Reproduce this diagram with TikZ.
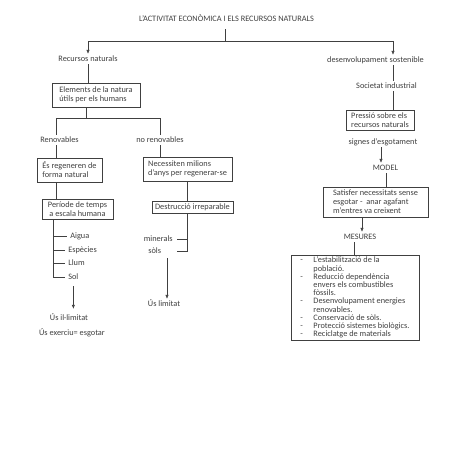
\documentclass[tikz,border=0pt]{standalone}
\usepackage{fontspec}
\setmainfont{Carlito}
\usetikzlibrary{arrows.meta, positioning}
\tikzset{>={Latex[length=4pt,width=3.2pt]}}
\newcommand{\guio}{\makebox[13pt][l]{-}}
\newcommand{\segueix}{\hspace*{13pt}}

\begin{document}
\begin{tikzpicture}[x=1pt, y=-1pt, color=black!75, line width=0.6pt,
  font=\fontsize{8.3}{9}\selectfont,
  txt/.style={inner sep=1pt, text height=6pt, text depth=1.5pt},
  box/.style={draw, align=left, inner xsep=2pt, inner ysep=1pt}]

\fill[white] (0,0) rectangle (453,453);
\useasboundingbox (0,0) rectangle (453,453);

% Title
\node[txt] (title) at (226.5,19) {L’ACTIVITAT ECONÒMICA I ELS RECURSOS NATURALS};
\coordinate (split) at (225,41);
\draw[shorten <=5pt] (split |- title.south) -- (split);

% Left branch: recursos naturals
\node[txt] (recnat) at (88,59) {Recursos naturals};
\node[box, minimum width=88pt, minimum height=24pt] (elem) at (96,95) {Elements de la natura\\útils per els humans};
\draw[->] (split) -| (recnat.north);
\draw (recnat.south) -- (recnat.south |- elem.north);

\node[txt] (renov) at (59.5,140) {Renovables};
\node[txt] (norenov) at (160,140) {no renovables};
\coordinate (lsplit) at (86,118);
\coordinate (sp1) at (56,118);
\coordinate (sp2) at (160,118);
\draw (lsplit |- elem.south) -- (lsplit);
\draw (sp2 |- norenov.north) -- (sp2) -- (sp1) -- (sp1 |- renov.north);

% Renovables
\node[box, minimum width=65pt, minimum height=24pt] (regen) at (69.5,170) {És regeneren de\\forma natural};
\node[box, align=center, minimum width=71pt, minimum height=20pt] (period) at (77.5,209) {Període de temps\\a escala humana};
\draw (sp1 |- renov.south) -- (sp1 |- regen.north);
\draw (sp1 |- regen.south) -- (sp1 |- period.north);

\coordinate (sp4) at (53,219);
\node[txt, anchor=west] (aigua) at (69,236) {Aigua};
\node[txt, anchor=west] (especies) at (67,250) {Espècies};
\node[txt, anchor=west] (llum) at (67,263) {Llum};
\node[txt, anchor=west] (sol) at (67,277) {Sol};
\draw[shorten >=2pt] (sp4 |- period.south) |- (sol.west);
\foreach \n in {aigua, especies, llum}
  \draw[shorten >=2pt] (sp4 |- \n.west) -- (\n.west);

\node[txt] (ilim) at (69,318) {Ús il·limitat};
\node[txt] (exerc) at (72,333) {Ús exerciu= esgotar};
\draw[->, shorten <=4pt, shorten >=4pt] (sol.south) -- (sol.south |- ilim.north);

% No renovables
\node[box, minimum width=89pt, minimum height=24pt] (necess) at (187.5,169) {Necessiten milions\\d’anys per regenerar-se};
\node[box, align=center, minimum width=81pt, minimum height=12pt] (destr) at (192.5,207) {Destrucció irreparable};
\coordinate (sp3) at (187,0);
\draw (norenov.south) -- (norenov.south |- necess.north);
\draw (sp3 |- necess.south) -- (sp3 |- destr.north);

\node[txt, anchor=east] (minerals) at (174,239) {minerals};
\node[txt, anchor=west] (sols) at (147,251) {sòls};
\draw[shorten >=3pt] (sp3 |- destr.south) |- (sols.east -| minerals.east);
\draw[shorten >=3pt] (sp3 |- minerals.east) -- (minerals.east);

\coordinate (a2) at (167,258);
\node[txt] (limitat) at (164,304) {Ús limitat};
\draw[->] (a2) -- (a2 |- limitat.north);

% Right branch: desenvolupament sostenible
\coordinate (rsp) at (393,0);
\node[txt] (desenv) at (375.5,60) {desenvolupament sostenible};
\node[txt] (societat) at (386.5,86) {Societat industrial};
\node[box, minimum width=68pt, minimum height=20pt] (pressio) at (380,120) {Pressió sobre els\\recursos naturals};
\node[txt] (signes) at (383,142) {signes d’esgotament};
\node[txt] (model) at (385.5,168) {MODEL};
\node[box, minimum width=105pt, minimum height=30pt] (satisf) at (375.5,202) {Satisfer necessitats sense\\esgotar -\ \ anar agafant\\m’entres va creixent};
\node[txt] (mesures) at (360,237) {MESURES};
\node[box, minimum width=128pt, minimum height=85pt, font=\fontsize{8.3}{8.2}\selectfont] (mesbox) at (355,297.5)
{\guio L’estabilització de la\\ \segueix població.\\
 \guio Reducció dependència\\ \segueix envers els combustibles\\ \segueix fòssils.\\
 \guio Desenvolupament energies\\ \segueix renovables.\\
 \guio Conservació de sòls.\\
 \guio Protecció sistemes biològics.\\
 \guio Reciclatge de materials};

\draw[->] (split) -| (desenv.north -| rsp);
\draw (desenv.south -| rsp) -- (societat.north -| rsp);
\draw (societat.south -| rsp) -- (pressio.north -| rsp);
\coordinate (rsp2) at (381,0);
\draw[->] (signes.south -| rsp2) -- (model.north -| rsp2);
\coordinate (rsp3) at (386,0);
\draw (model.south -| rsp3) -- (satisf.north -| rsp3);
\coordinate (rsp4) at (362,0);
\draw[->] (satisf.south -| rsp4) -- (mesures.north -| rsp4);
\coordinate (rsp5) at (354,0);
\draw (mesures.south -| rsp5) -- (mesbox.north -| rsp5);

\end{tikzpicture}
\end{document}
